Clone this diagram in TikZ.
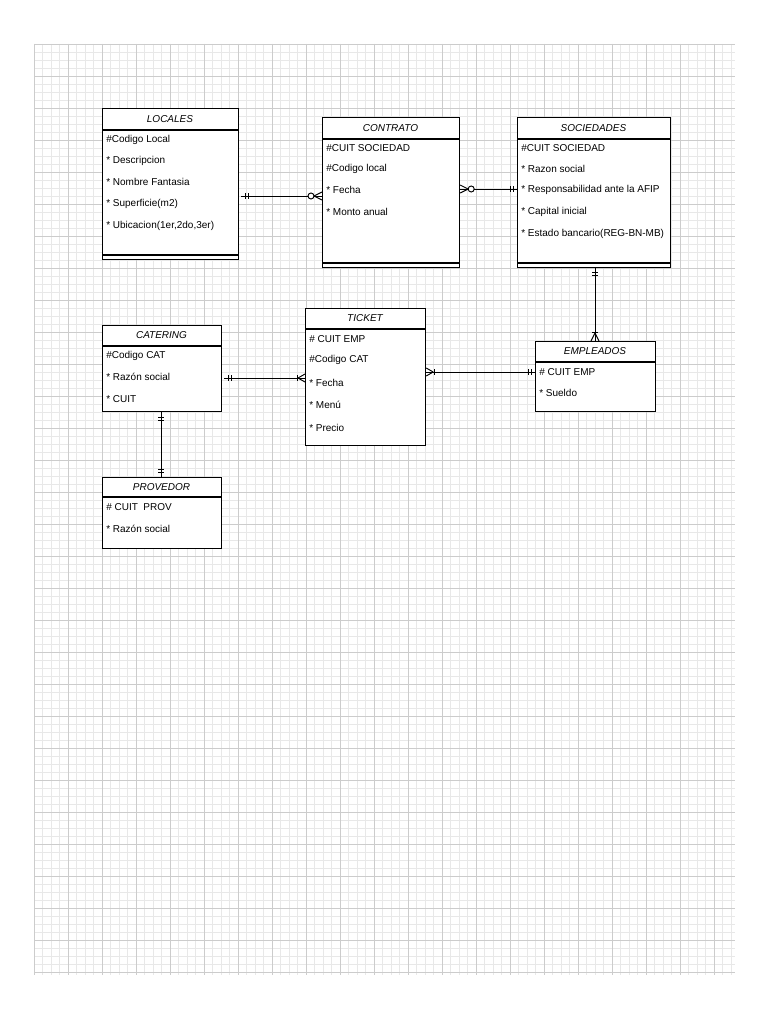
\documentclass[tikz,border=0pt]{standalone}
\usepackage{fontspec}
\setmainfont{Liberation Sans}
\usetikzlibrary{calc}
\begin{document}
\begin{tikzpicture}[x=0.75pt,y=-0.75pt,
  ent/.style={draw,line width=0.9pt,anchor=north west,inner sep=0pt},
  hdr/.style={font=\fontsize{7.5}{8}\selectfont\itshape},
  fld/.style={font=\fontsize{7.5}{8}\selectfont,anchor=west,inner sep=0pt},
  rel/.style={line width=0.7pt}]
\useasboundingbox (0,0) rectangle (768,1024);
\fill[white] (0,0) rectangle (768,1024);
% grid
\foreach \i in {0,...,82} {\draw[black!9,line width=0.4pt] ({34+\i*8.5},44) -- ({34+\i*8.5},975);}
\foreach \i in {0,...,116} {\draw[black!9,line width=0.4pt] (34,{44+\i*8}) -- (735,{44+\i*8});}
\foreach \i in {0,...,20} {\draw[black!20,line width=0.5pt] ({34+\i*34},44) -- ({34+\i*34},975);}
\foreach \i in {0,...,29} {\draw[black!20,line width=0.5pt] (34,{44+\i*32}) -- (735,{44+\i*32});}
% entities: name, x, y, w, h, header line, title
\newcommand\ent[7]{%
  \node[ent,fill=white,minimum width=#4*0.75pt,minimum height=#5*0.75pt] (#1) at (#2,#3) {};
  \draw[line width=0.9pt] (#2,#3+#6) -- (#2+#4,#3+#6);
  \node[hdr] at (#2+#4/2,#3+#6/2) {#7};}
\ent{locales}{102}{108}{136}{151}{22}{LOCALES}
\draw[line width=0.9pt] (102,255) -- (238,255);
\ent{contrato}{322}{117}{137}{150}{22}{CONTRATO}
\draw[line width=0.9pt] (322,263) -- (459,263);
\ent{sociedades}{517}{117}{153}{150}{22}{SOCIEDADES}
\draw[line width=0.9pt] (517,263) -- (670,263);
\ent{ticket}{305}{308}{120}{137}{21}{TICKET}
\ent{catering}{102}{325}{119}{86}{21}{CATERING}
\ent{empleados}{535}{341}{120}{70}{21}{EMPLEADOS}
\ent{provedor}{102}{477}{119}{71}{20}{PROVEDOR}
% fields
\foreach \t/\y in {\#Codigo Local/140,* Descripcion/161,* Nombre Fantasia/182,* Superficie(m2)/204,* Ubicacion(1er{,}2do{,}3er)/226}
  \node[fld] at (106,\y) {\t};
\foreach \t/\y in {\#CUIT SOCIEDAD/148,\#Codigo local/169,* Fecha/190,* Monto anual/212}
  \node[fld] at (326,\y) {\t};
\foreach \t/\y in {\#CUIT SOCIEDAD/148,* Razon social/169,* Responsabilidad ante la AFIP/190,* Capital inicial/212,* Estado bancario(REG-BN-MB)/234}
  \node[fld] at (521,\y) {\t};
\foreach \t/\y in {\# CUIT EMP/339,\#Codigo CAT/360,* Fecha/383,* Menú/405,* Precio/428}
  \node[fld] at (309,\y) {\t};
\foreach \t/\y in {\#Codigo CAT/356,* Razón social/377,* CUIT/399}
  \node[fld] at (106,\y) {\t};
\foreach \t/\y in {\# CUIT EMP/372,* Sueldo/393}
  \node[fld] at (539,\y) {\t};
\foreach \t/\y in {\# CUIT\ \ PROV/507,* Razón social/529}
  \node[fld] at (106,\y) {\t};
% LOCALES -- CONTRATO
\coordinate (a1) at ($(locales.north east)+(2,88)$);
\coordinate (a2) at ($(contrato.north west)+(0,79)$);
\draw[rel] (a1) -- (a2);
\draw[rel] ($(a1)+(4,-3)$) -- ++(0,6) ($(a1)+(7,-3)$) -- ++(0,6);
\draw[rel,fill=white] ($(a2)+(-11,0)$) circle (3);
\draw[rel] ($(a2)+(-8,0)$) -- ($(a2)+(0,-4)$) ($(a2)+(-8,0)$) -- ($(a2)+(0,4)$);
% CONTRATO -- SOCIEDADES
\coordinate (b1) at ($(contrato.north east)+(0,72)$);
\coordinate (b2) at ($(sociedades.north west)+(0,72)$);
\draw[rel] (b1) -- (b2);
\draw[rel] ($(b1)+(8,0)$) -- ($(b1)+(0,-4)$) ($(b1)+(8,0)$) -- ($(b1)+(0,4)$);
\draw[rel,fill=white] ($(b1)+(11,0)$) circle (3);
\draw[rel] ($(b2)+(-4,-3)$) -- ++(0,6) ($(b2)+(-7,-3)$) -- ++(0,6);
% SOCIEDADES -- EMPLEADOS
\coordinate (c1) at (sociedades.south -| 595,0);
\coordinate (c2) at (empleados.north -| 595,0);
\draw[rel] (c1) -- (c2);
\draw[rel] ($(c1)+(-3,4)$) -- ++(6,0) ($(c1)+(-3,7)$) -- ++(6,0);
\draw[rel] ($(c2)+(-3,-9)$) -- ++(6,0);
\draw[rel] ($(c2)+(0,-8)$) -- ($(c2)+(-4,0)$) ($(c2)+(0,-8)$) -- ($(c2)+(4,0)$);
% CATERING -- TICKET
\coordinate (d1) at ($(catering.north east)+(2,53)$);
\coordinate (d2) at ($(ticket.north west)+(0,70)$);
\draw[rel] (d1) -- (d2);
\draw[rel] ($(d1)+(4,-3)$) -- ++(0,6) ($(d1)+(7,-3)$) -- ++(0,6);
\draw[rel] ($(d2)+(-8,-3)$) -- ++(0,6);
\draw[rel] ($(d2)+(-7,0)$) -- ($(d2)+(0,-4)$) ($(d2)+(-7,0)$) -- ($(d2)+(0,4)$);
% TICKET -- EMPLEADOS
\coordinate (e1) at ($(ticket.north east)+(0,64)$);
\coordinate (e2) at ($(empleados.north west)+(0,31)$);
\draw[rel] (e1) -- (e2);
\draw[rel] ($(e1)+(7,0)$) -- ($(e1)+(0,-4)$) ($(e1)+(7,0)$) -- ($(e1)+(0,4)$);
\draw[rel] ($(e1)+(8,-3)$) -- ++(0,6);
\draw[rel] ($(e2)+(-4,-3)$) -- ++(0,6) ($(e2)+(-7,-3)$) -- ++(0,6);
% CATERING -- PROVEDOR
\coordinate (f1) at (catering.south -| 161,0);
\coordinate (f2) at (provedor.north -| 161,0);
\draw[rel] (f1) -- (f2);
\draw[rel] ($(f1)+(-3,5)$) -- ++(6,0) ($(f1)+(-3,8)$) -- ++(6,0);
\draw[rel] ($(f2)+(-3,-5)$) -- ++(6,0) ($(f2)+(-3,-8)$) -- ++(6,0);
\end{tikzpicture}
\end{document}
